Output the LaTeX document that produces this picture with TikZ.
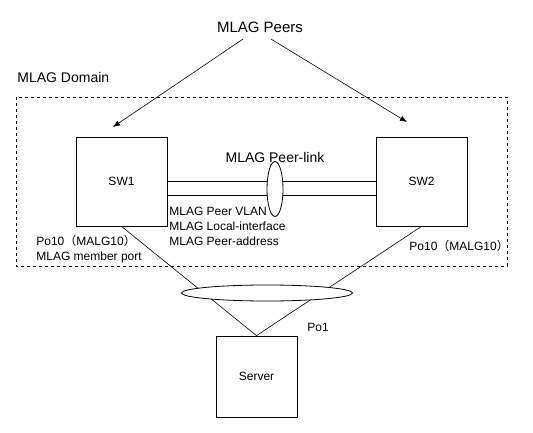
\documentclass[tikz,border=0pt]{standalone}
\usepackage{fontspec}
\setmainfont{Liberation Sans}
\newfontfamily\cjk{Noto Sans CJK SC}
\usepackage{tikz}
\usetikzlibrary{arrows.meta,calc,shapes.geometric}

\newcommand{\fwl}{{\cjk （}}
\newcommand{\fwr}{{\cjk ）}}

\begin{document}
\begin{tikzpicture}[x=1pt,y=-1pt,line width=0.8pt,
  box/.style={draw, minimum width=91pt, minimum height=89pt, font=\fontsize{12}{15}\selectfont},
  txt/.style={inner sep=0pt, anchor=west, font=\fontsize{12}{15}\selectfont, text height=8.6pt, text depth=0pt},
  lag/.style={draw, ellipse, fill=white, inner sep=0pt}]

\useasboundingbox (0,0) rectangle (533,433);

\node[font=\fontsize{15}{18}\selectfont] (peers) at (260,27) {MLAG Peers};
\node[font=\fontsize{14}{17}\selectfont, anchor=west, inner sep=0pt] (domain) at (17,77) {MLAG Domain};
\draw[dash pattern=on 3pt off 3pt, line width=0.7pt] (16,97) rectangle (507,266);

\node[box] (sw1) at (121.5,181.5) {SW1};
\node[box] (sw2) at (421.5,181.5) {SW2};
\node[box, minimum width=81pt, minimum height=81pt] (server) at (256.5,376.5) {Server};

\coordinate (tip1) at (113,127);
\coordinate (tip2) at (407,122);
\draw[-{Latex[length=7pt,width=5.5pt]}, line width=0.6pt] ([shift={(-17,3)}]peers.south) -- (tip1);
\draw[-{Latex[length=7pt,width=5.5pt]}, line width=0.6pt] ([shift={(11,3)}]peers.south) -- (tip2);

% uplinks to the server
\draw[line width=0.6pt] (sw1.south) -- (server.north);
\draw[line width=0.6pt] (sw2.south) -- (server.north);

% peer-link
\draw (sw1.east) -- (sw2.west);
\draw ([yshift=-14pt]sw1.east) -- ([yshift=-14pt]sw2.west);

\node[lag, minimum width=16pt, minimum height=55pt] (plink) at (275,189) {};
\node[lag, minimum width=171pt, minimum height=16pt] (po1lag) at (267,293) {};

\node[font=\fontsize{14}{17}\selectfont] (plinktxt) at (275,157) {MLAG Peer-link};
\node[txt] (vlan) at (169,211) {MLAG Peer VLAN};
\node[txt] (localif) at (169,226) {MLAG Local-interface};
\node[txt] (peeraddr) at (169,241) {MLAG Peer-address};
\node[txt] (po10a) at (36,241) {Po10\fwl MALG10\fwr};
\node[txt] (member) at (36,256) {MLAG member port};
\node[txt] (po10b) at (409,246) {Po10\fwl MALG10\fwr};
\node[txt] (po1) at (307,327) {Po1};

\end{tikzpicture}
\end{document}
